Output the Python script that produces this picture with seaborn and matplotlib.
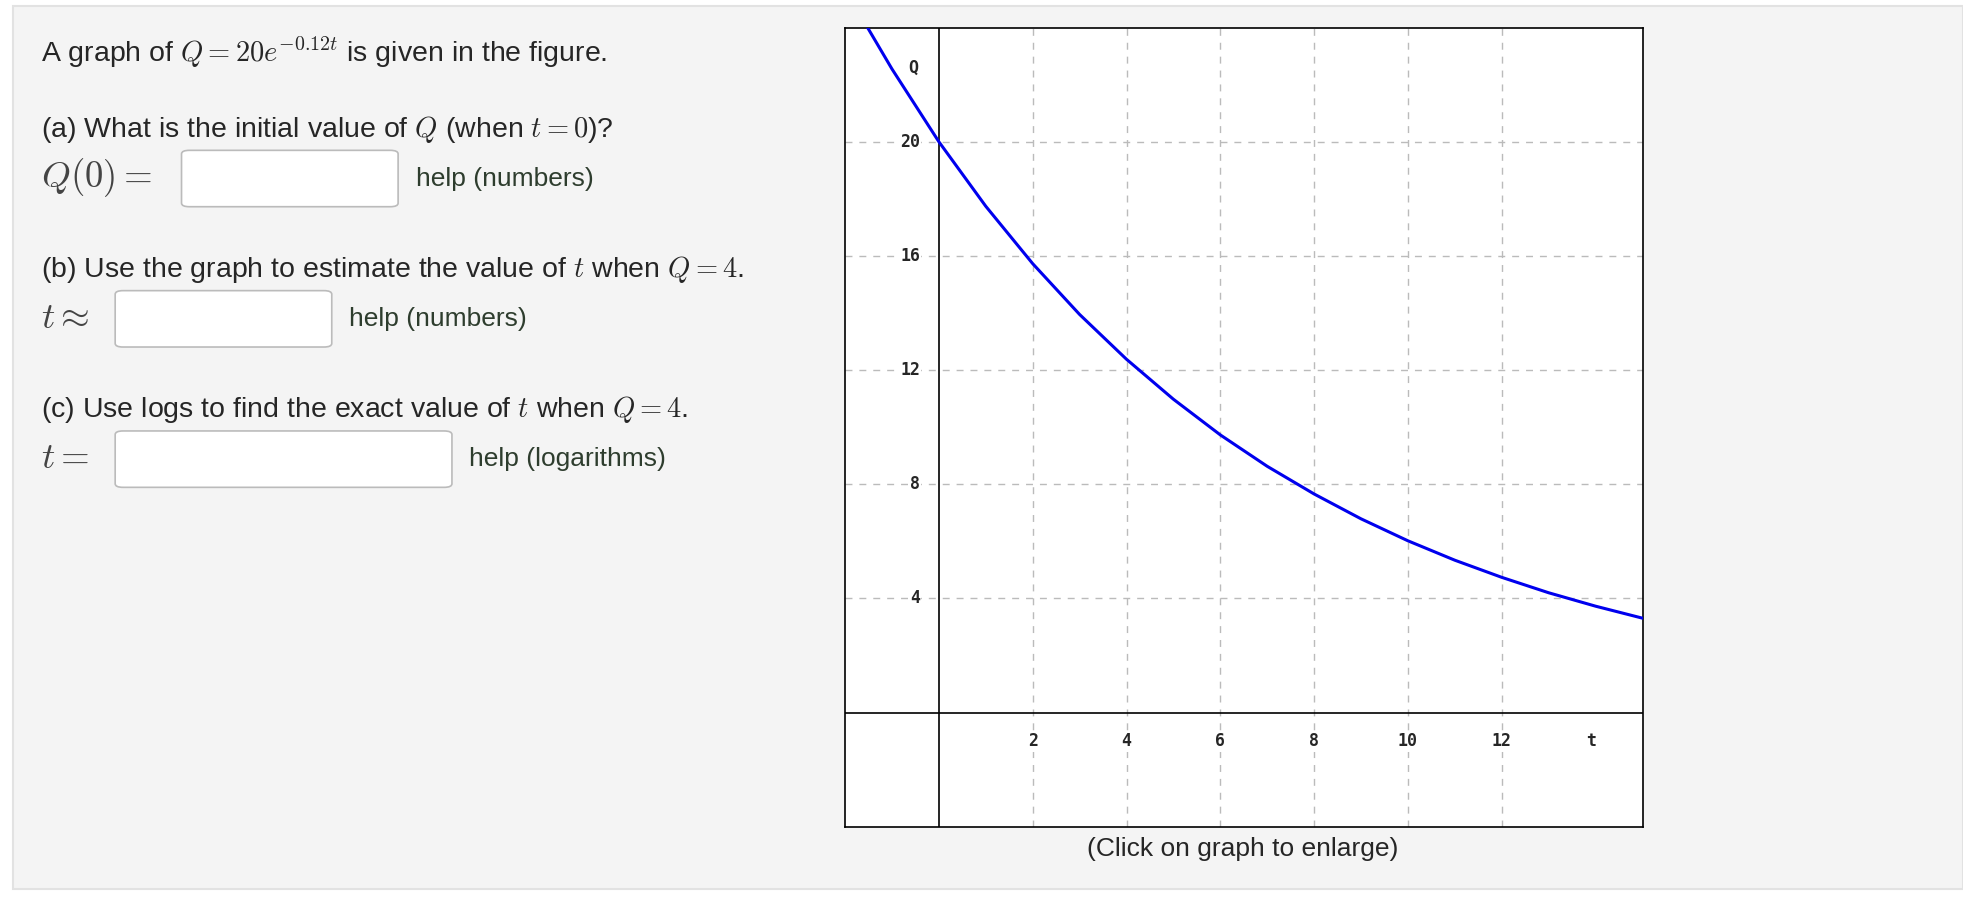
import matplotlib
matplotlib.use("Agg")
import matplotlib.pyplot as plt
import seaborn as sns
from matplotlib.patches import FancyBboxPatch, Rectangle

t_vals = [-1.52, -1, 0, 1, 2, 3, 4, 5, 6, 7, 8, 9, 10, 11, 12, 13, 14, 15]
q_vals = [24.0, 22.55, 20.0, 17.74, 15.73, 13.95, 12.38, 10.98, 9.73, 8.63, 7.66, 6.79, 6.02, 5.34, 4.74, 4.20, 3.73, 3.31]
x_ticks = [2, 4, 6, 8, 10, 12]
y_ticks = [4, 8, 12, 16, 20]

sns.set_theme(style="white")
plt.rcParams['font.family'] = ['Liberation Sans', 'DejaVu Sans']
plt.rcParams['mathtext.fontset'] = 'cm'

W, H = 1568, 716
fig = plt.figure(figsize=(19.63, 8.97), dpi=100)
fig.patch.set_facecolor('white')
fig.add_artist(Rectangle((10/W, 1-710/H), 1558/W, 705/H, transform=fig.transFigure,
                         facecolor='#f4f4f4', edgecolor='#e2e2e2', lw=1.5, zorder=0))

def fy(y): return 1 - y / H
fs = 20.5
x0 = 33 / W
def line(y, s):
    fig.text(x0, fy(y), s, fontsize=fs, va='center')
line(42, r"A graph of $Q = 20e^{-0.12t}$ is given in the figure.")
line(103, r"(a) What is the initial value of $Q$ (when $t = 0$)?")
fig.text(x0, fy(142), r"$Q(0) =$", fontsize=fs+6, va='center', color='#444')
line(215, r"(b) Use the graph to estimate the value of $t$ when $Q = 4$.")
fig.text(x0, fy(254), r"$t \approx$", fontsize=fs+6, va='center', color='#444')
line(327, r"(c) Use logs to find the exact value of $t$ when $Q = 4$.")
fig.text(x0, fy(366), r"$t =$", fontsize=fs+6, va='center', color='#444')
for (xl, xr, yt, yb, htxt) in [(145, 318, 120, 165, "help (numbers)"),
                               (92, 265, 232, 277, "help (numbers)"),
                               (92, 361, 344, 389, "help (logarithms)")]:
    fig.add_artist(FancyBboxPatch((xl/W, 1-yb/H), (xr-xl)/W, (yb-yt)/H,
                                  boxstyle="round,pad=0,rounding_size=0.004",
                                  transform=fig.transFigure, facecolor='white',
                                  edgecolor='#bbbbbb', lw=1.2))
    fig.text((xr+14)/W, fy((yt+yb)/2), htxt, fontsize=fs-1.5, va='center', color='#2e3d2e')
fig.text(993/W, fy(678), "(Click on graph to enlarge)", fontsize=fs-1.5, va='center', ha='center')

ax = fig.add_axes([675/W, 1-660/H, (1312-675)/W, (660-22)/H])
ax.set_xlim(-2, 15)
ax.set_ylim(-4, 24)
for x in x_ticks:
    ax.axvline(x, color='#bbbbbb', ls=(0, (5, 5)), lw=1, zorder=1)
for y in y_ticks:
    ax.axhline(y, color='#bbbbbb', ls=(0, (5, 5)), lw=1, zorder=1)
ax.axvline(0, color='black', lw=1.2, zorder=2)
ax.axhline(0, color='black', lw=1.2, zorder=2)
sns.lineplot(x=t_vals, y=q_vals, ax=ax, color='#0000ee', lw=2.2, zorder=3)
lblkw = dict(fontsize=12, fontweight='bold', family='DejaVu Sans Mono')
for x in x_ticks:
    ax.text(x, -1.0, str(x), ha='center', va='center',
            bbox=dict(facecolor='white', edgecolor='none', pad=1), **lblkw)
for y in y_ticks:
    ax.text(-0.4, y, str(y), ha='right', va='center',
            bbox=dict(facecolor='white', edgecolor='none', pad=1), **lblkw)
ax.text(-0.55, 22.6, "Q", ha='center', va='center', **lblkw)
ax.text(13.9, -1.0, "t", ha='center', va='center', **lblkw)
ax.set_xticks([]); ax.set_yticks([])
for s in ax.spines.values():
    s.set_color('black'); s.set_linewidth(1.2)
ax.set_facecolor('white')
fig.savefig("out.png", dpi=100)
